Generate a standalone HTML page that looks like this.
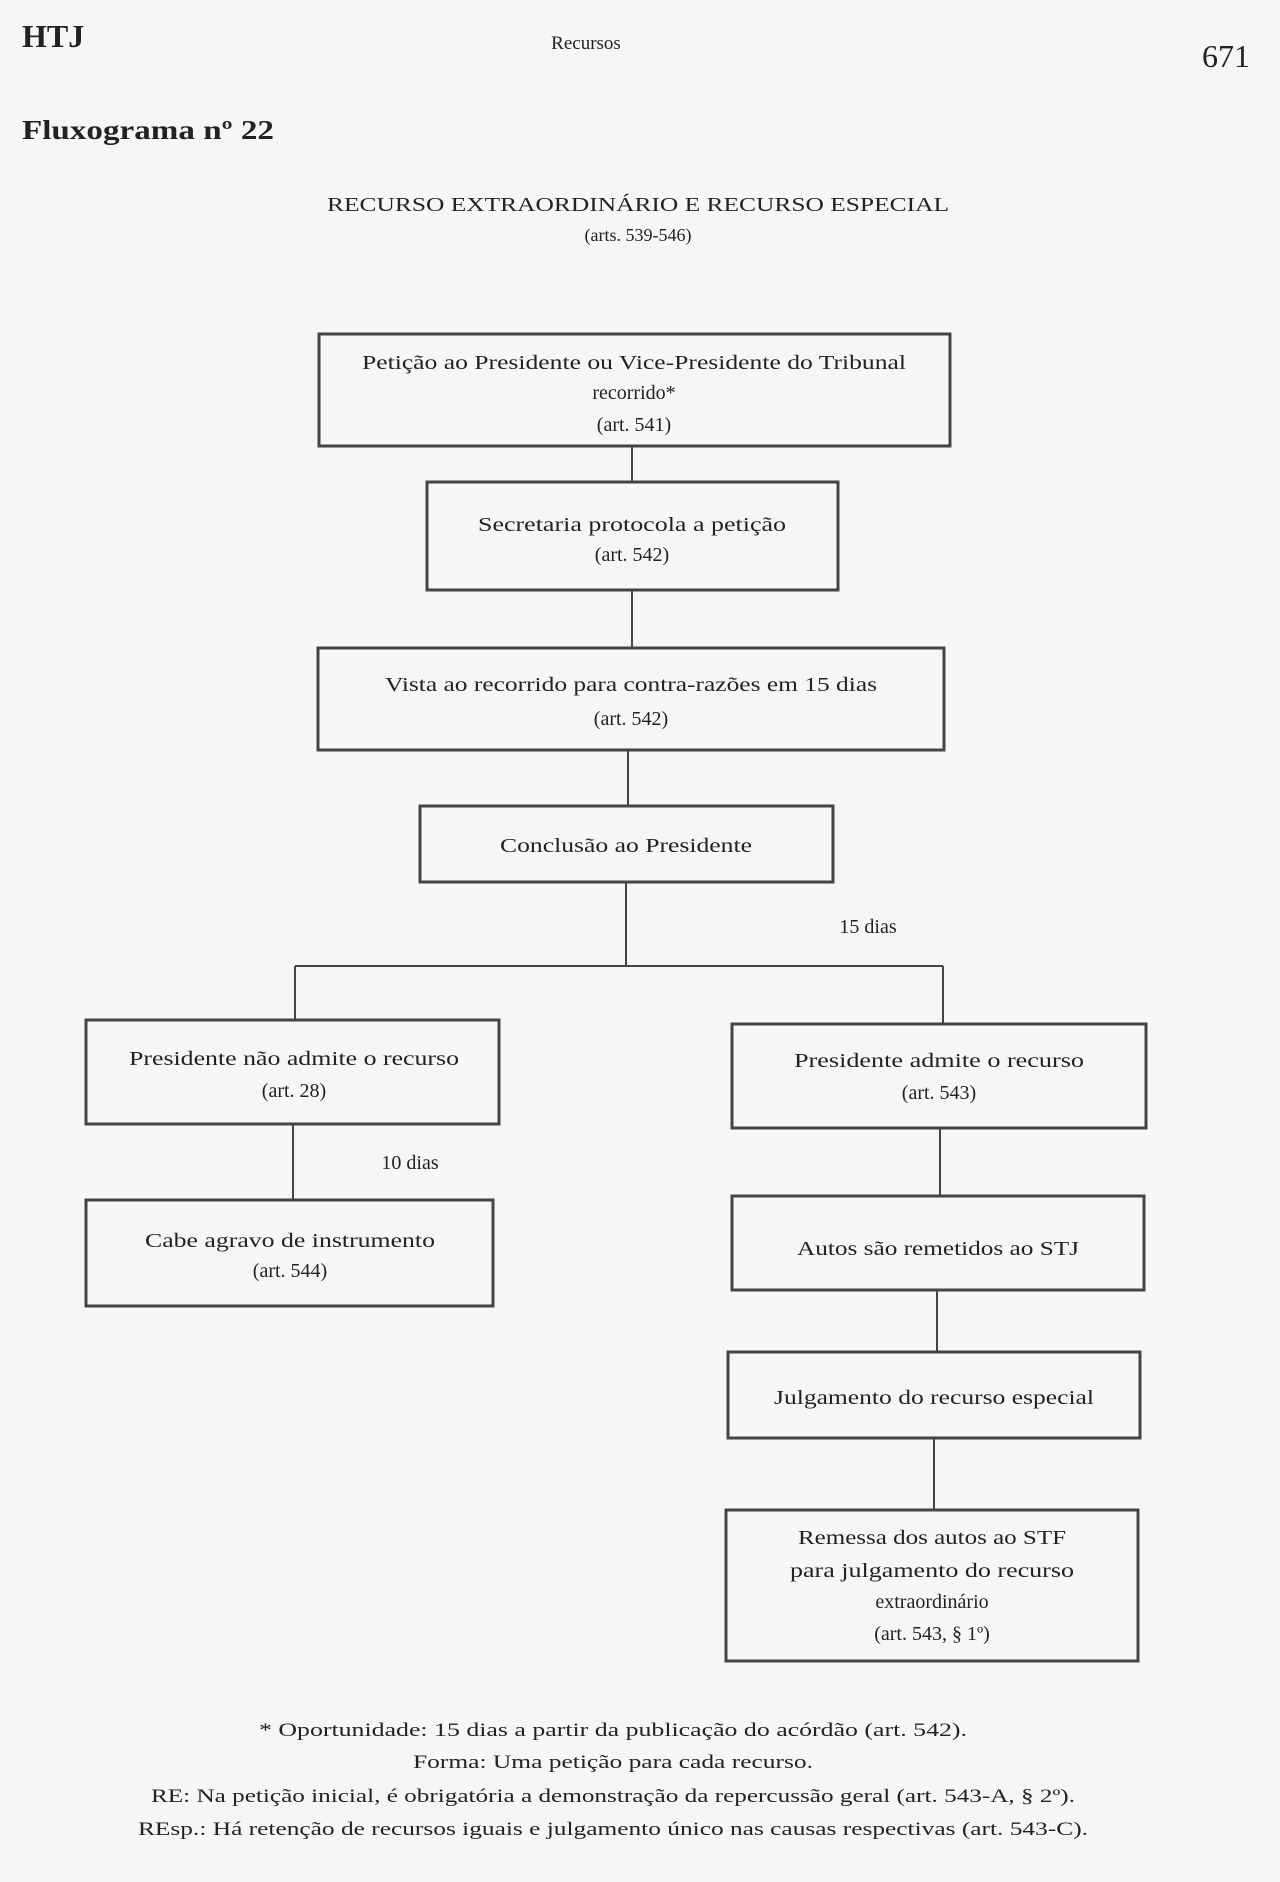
<!DOCTYPE html>
<html><head><meta charset="utf-8"><style>
html,body{margin:0;padding:0;background:#f6f6f6;}
svg{display:block}
text{font-family:"Liberation Serif",serif;fill:#222;}
</style></head><body>
<svg width="1280" height="1882" viewBox="0 0 1280 1882" xmlns="http://www.w3.org/2000/svg">
<rect width="1280" height="1882" fill="#f6f6f6"/>
<text x="22" y="47" font-size="32" font-weight="bold" fill="#333">HTJ</text>
<text x="586" y="49" font-size="19" text-anchor="middle">Recursos</text>
<text x="1250" y="67" font-size="32" text-anchor="end">671</text>
<text x="22" y="139" font-size="27" font-weight="bold" textLength="252" lengthAdjust="spacingAndGlyphs">Fluxograma nº 22</text>
<text x="638" y="211" font-size="20" text-anchor="middle" textLength="622" lengthAdjust="spacingAndGlyphs">RECURSO EXTRAORDINÁRIO E RECURSO ESPECIAL</text>
<text x="638" y="241" font-size="18" text-anchor="middle">(arts. 539-546)</text>

<g fill="none" stroke="#444" stroke-width="3">
<rect x="319" y="334" width="631" height="112"/>
<rect x="427" y="482" width="411" height="108"/>
<rect x="318" y="648" width="626" height="102"/>
<rect x="420" y="806" width="413" height="76"/>
<rect x="86" y="1020" width="413" height="104"/>
<rect x="732" y="1024" width="414" height="104"/>
<rect x="86" y="1200" width="407" height="106"/>
<rect x="732" y="1196" width="412" height="94"/>
<rect x="728" y="1352" width="412" height="86"/>
<rect x="726" y="1510" width="412" height="151"/>
</g>
<g stroke="#444" stroke-width="2" fill="none">
<line x1="632" y1="446" x2="632" y2="482"/>
<line x1="632" y1="590" x2="632" y2="648"/>
<line x1="628" y1="750" x2="628" y2="806"/>
<line x1="626" y1="882" x2="626" y2="966"/>
<line x1="295" y1="966" x2="943" y2="966"/>
<line x1="295" y1="966" x2="295" y2="1020"/>
<line x1="943" y1="966" x2="943" y2="1024"/>
<line x1="293" y1="1124" x2="293" y2="1200"/>
<line x1="940" y1="1128" x2="940" y2="1196"/>
<line x1="937" y1="1290" x2="937" y2="1352"/>
<line x1="934" y1="1438" x2="934" y2="1510"/>
</g>

<g font-size="20" text-anchor="middle">
<text x="634" y="369" textLength="544" lengthAdjust="spacingAndGlyphs">Petição ao Presidente ou Vice-Presidente do Tribunal</text>
<text x="634" y="399">recorrido*</text>
<text x="634" y="431">(art. 541)</text>
<text x="632" y="531" textLength="308" lengthAdjust="spacingAndGlyphs">Secretaria protocola a petição</text>
<text x="632" y="561">(art. 542)</text>
<text x="631" y="691" textLength="492" lengthAdjust="spacingAndGlyphs">Vista ao recorrido para contra-razões em 15 dias</text>
<text x="631" y="725">(art. 542)</text>
<text x="626" y="852" textLength="252" lengthAdjust="spacingAndGlyphs">Conclusão ao Presidente</text>
<text x="868" y="933">15 dias</text>
<text x="294" y="1065" textLength="330" lengthAdjust="spacingAndGlyphs">Presidente não admite o recurso</text>
<text x="294" y="1097">(art. 28)</text>
<text x="939" y="1067" textLength="290" lengthAdjust="spacingAndGlyphs">Presidente admite o recurso</text>
<text x="939" y="1099">(art. 543)</text>
<text x="410" y="1169">10 dias</text>
<text x="290" y="1247" textLength="290" lengthAdjust="spacingAndGlyphs">Cabe agravo de instrumento</text>
<text x="290" y="1277">(art. 544)</text>
<text x="938" y="1255" textLength="282" lengthAdjust="spacingAndGlyphs">Autos são remetidos ao STJ</text>
<text x="934" y="1404" textLength="320" lengthAdjust="spacingAndGlyphs">Julgamento do recurso especial</text>
<text x="932" y="1544" textLength="268" lengthAdjust="spacingAndGlyphs">Remessa dos autos ao STF</text>
<text x="932" y="1577" textLength="284" lengthAdjust="spacingAndGlyphs">para julgamento do recurso</text>
<text x="932" y="1608">extraordinário</text>
<text x="932" y="1640">(art. 543, § 1º)</text>
</g>
<g font-size="19" text-anchor="middle">
<text x="613" y="1736" textLength="708" lengthAdjust="spacingAndGlyphs">* Oportunidade: 15 dias a partir da publicação do acórdão (art. 542).</text>
<text x="613" y="1768" textLength="400" lengthAdjust="spacingAndGlyphs">Forma: Uma petição para cada recurso.</text>
<text x="613" y="1802" textLength="924" lengthAdjust="spacingAndGlyphs">RE: Na petição inicial, é obrigatória a demonstração da repercussão geral (art. 543-A, § 2º).</text>
<text x="613" y="1835" textLength="950" lengthAdjust="spacingAndGlyphs">REsp.: Há retenção de recursos iguais e julgamento único nas causas respectivas (art. 543-C).</text>
</g>
</svg>
</body></html>
